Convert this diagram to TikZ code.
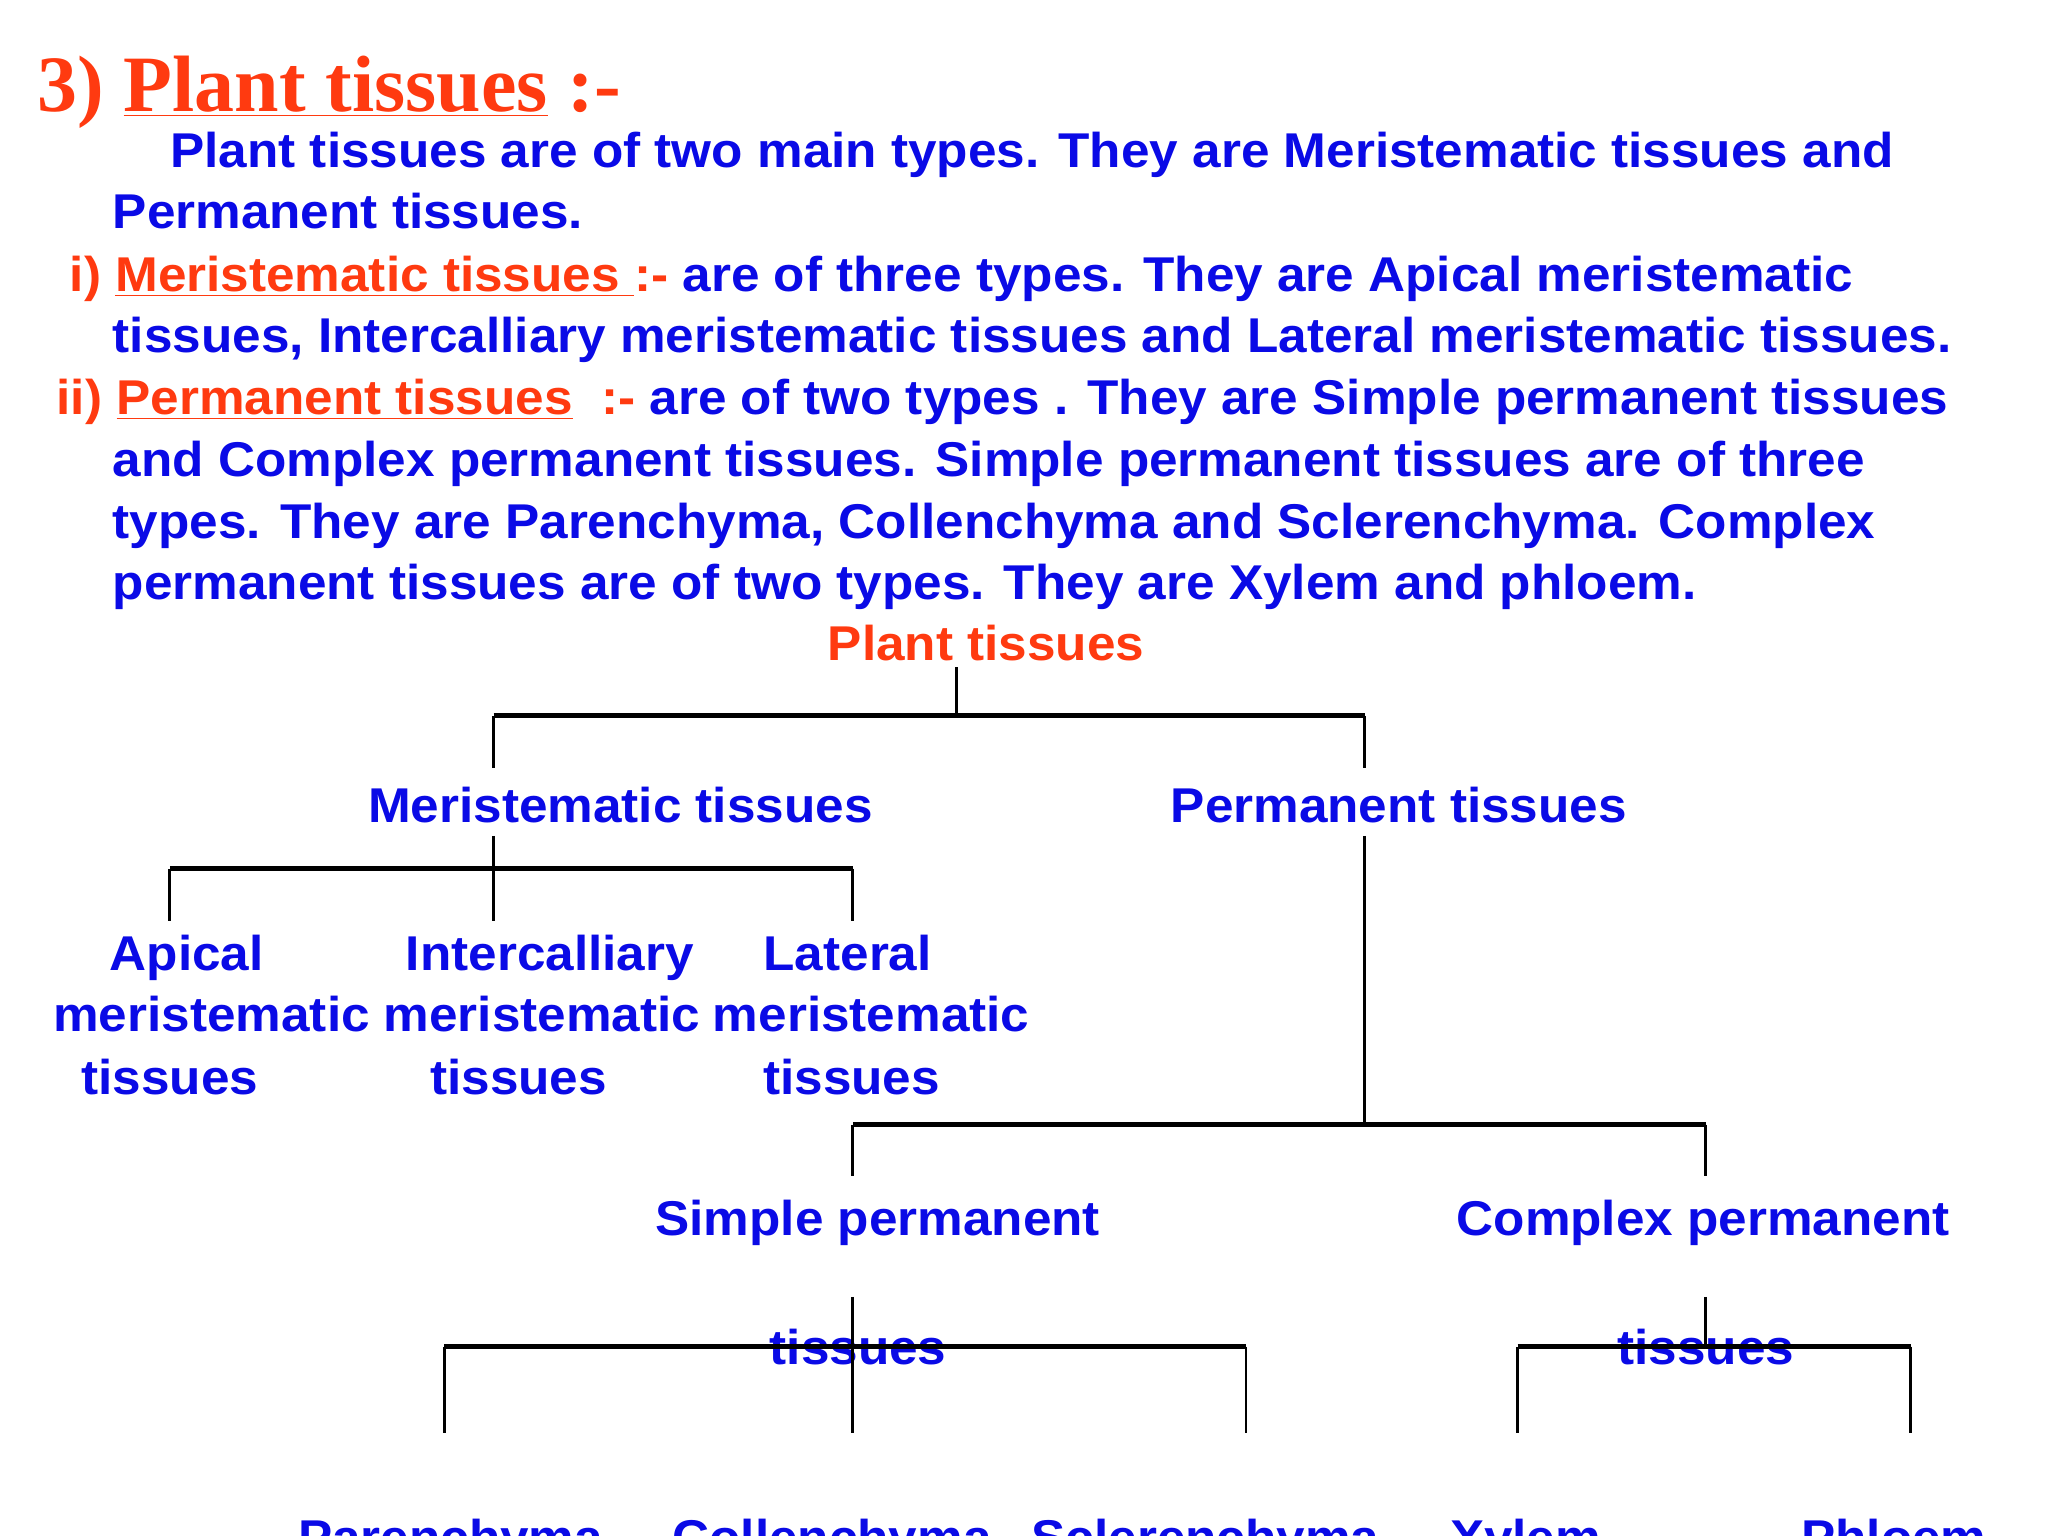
\documentclass[tikz,border=0pt]{standalone}
\usepackage{fontspec}
\setmainfont{Liberation Sans}
\newfontfamily\bodyfont{Liberation Sans}[FakeStretch=1.05]
\newfontfamily\serifbf{Liberation Serif}
\definecolor{tblue}{HTML}{0A0AE6}
\definecolor{tred}{HTML}{FF3A10}
\tikzset{
  body/.style={font=\bodyfont\fontsize{18.7}{22}\selectfont\bfseries, text=tblue, inner sep=0pt},
  lbl/.style={body, anchor=base},
  hbar/.style={line width=1.8pt},
  vbar/.style={line width=1.1pt},
}
\begin{document}
\begin{tikzpicture}[x=0.5pt,y=-0.5pt]
\useasboundingbox (0,0) rectangle (1568,1176);
\fill[white] (0,0) rectangle (1568,1176);
% title
\node[anchor=base west, inner sep=0pt, text=tred, font=\fontsize{30.6}{34}\selectfont\serifbf\bfseries] (title) at (28,85) {3) \underline{Plant tissues} :-};
% paragraphs
\node[body, anchor=base west] (l1) at (130,128) {Plant tissues are of two main types. They are Meristematic tissues and};
\node[body, anchor=base west] (l2) at (86,175) {Permanent tissues.};
\node[body, anchor=base west] (l3) at (53,223) {\textcolor{tred}{i) \underline{Meristematic tissues }:-} are of three types. They are Apical meristematic};
\node[body, anchor=base west] (l4) at (86,270) {tissues, Intercalliary meristematic tissues and Lateral meristematic tissues.};
\node[body, anchor=base west] (l5) at (43,317) {\textcolor{tred}{ii) \underline{Permanent tissues}\ \ :-} are of two types . They are Simple permanent tissues};
\node[body, anchor=base west] (l6) at (86,365) {and Complex permanent tissues. Simple permanent tissues are of three};
\node[body, anchor=base west] (l7) at (86,412) {types. They are Parenchyma, Collenchyma and Sclerenchyma. Complex};
\node[body, anchor=base west] (l8) at (86,459) {permanent tissues are of two types. They are Xylem and phloem.};
% tree labels
\node[lbl, text=tred] (root) at (755,506) {Plant tissues};
\node[lbl] (mer) at (475,630) {Meristematic tissues};
\node[lbl] (per) at (1071,630) {Permanent tissues};
\node[lbl] (api1) at (143,743) {Apical};
\node[lbl] (api2) at (162,790) {meristematic};
\node[lbl] (api3) at (130,838) {tissues};
\node[lbl] (int1) at (421,743) {Intercalliary};
\node[lbl] (int2) at (415,790) {meristematic};
\node[lbl] (int3) at (397,838) {tissues};
\node[lbl] (lat1) at (649,743) {Lateral};
\node[lbl] (lat2) at (667,790) {meristematic};
\node[lbl] (lat3) at (652,838) {tissues};
\node[lbl] (sim) at (672,946) {Simple permanent};
\node[lbl] (simt) at (657,1045) {tissues};
\node[lbl] (com) at (1304,946) {Complex permanent};
\node[lbl] (comt) at (1306,1045) {tissues};
\node[lbl] (par) at (345,1190) {Parenchyma};
\node[lbl] (col) at (637,1190) {Collenchyma};
\node[lbl] (scl) at (923,1190) {Sclerenchyma};
\node[lbl] (xyl) at (1168,1190) {Xylem};
\node[lbl] (phl) at (1450,1190) {Phloem};
% connectors
\coordinate (r0) at (732,511); \coordinate (r1) at (732,548);
\coordinate (rl) at (378,548); \coordinate (rr) at (1045,548);
\coordinate (rlb) at (378,588); \coordinate (rrb) at (1045,588);
\draw[vbar] (r0) -- (r1);
\draw[hbar] (rl) -- (rr);
\draw[vbar] (rl) -- (rlb); \draw[vbar] (rr) -- (rrb);
\coordinate (m0) at (378,640); \coordinate (m1) at (378,705);
\coordinate (ml) at (130,665); \coordinate (mr) at (653,665);
\coordinate (mlb) at (130,705); \coordinate (mrb) at (653,705);
\draw[vbar] (m0) -- (m1);
\draw[hbar] (ml) -- (mr);
\draw[vbar] (ml) -- (mlb); \draw[vbar] (mr) -- (mrb);
\coordinate (p0) at (1045,640); \coordinate (p1) at (1045,861);
\coordinate (pl) at (653,861); \coordinate (pr) at (1306,861);
\coordinate (plb) at (653,900); \coordinate (prb) at (1306,900);
\draw[vbar] (p0) -- (p1);
\draw[hbar] (pl) -- (pr);
\draw[vbar] (pl) -- (plb); \draw[vbar] (pr) -- (prb);
\coordinate (s0) at (653,993); \coordinate (s1) at (653,1097);
\coordinate (sl) at (340,1031); \coordinate (sr) at (954,1031);
\coordinate (slb) at (340,1097); \coordinate (srb) at (954,1097);
\draw[vbar] (s0) -- (s1);
\draw[hbar] (sl) -- (sr);
\draw[vbar] (sl) -- (slb); \draw[vbar] (sr) -- (srb);
\coordinate (c0) at (1306,993); \coordinate (c1) at (1306,1031);
\coordinate (cl) at (1162,1031); \coordinate (cr) at (1463,1031);
\coordinate (clb) at (1162,1097); \coordinate (crb) at (1463,1097);
\draw[vbar] (c0) -- (c1);
\draw[hbar] (cl) -- (cr);
\draw[vbar] (cl) -- (clb); \draw[vbar] (cr) -- (crb);
\end{tikzpicture}
\end{document}
